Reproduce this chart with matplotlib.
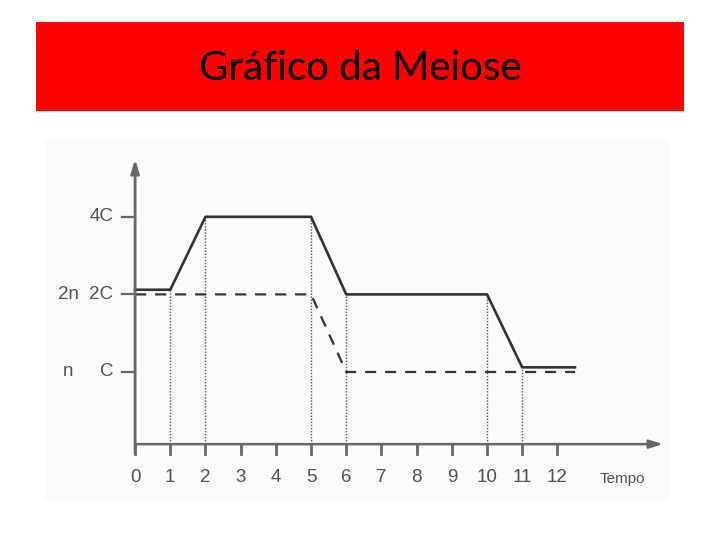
import matplotlib
matplotlib.use("Agg")
import matplotlib.pyplot as plt
from matplotlib.patches import Rectangle

# Dados do gráfico (tempo x nível de DNA / ploidia)
# níveis no eixo y: 1 = C / n, 2 = 2C / 2n, 3 = 4C
tempo_dna = [0, 1, 2, 5, 6, 10, 11, 12.5]
nivel_dna = [2.06, 2.06, 3, 3, 2, 2, 1.06, 1.06]

tempo_cromossomos = [0, 5, 6, 12.5]
nivel_cromossomos = [2, 2, 1, 1]

# linhas pontilhadas verticais
marcas_tempo = [1, 2, 5, 6, 10, 11]
marcas_nivel = [2.06, 3, 3, 2, 2, 1.06]

ticks_x = list(range(0, 13))
niveis_y = [1, 2, 3]
rotulos_c = ["C", "2C", "4C"]
rotulos_n = ["n", "2n", ""]

cor_linha = "#333333"
cor_eixo = "#666666"
cor_texto = "#505050"

fig = plt.figure(figsize=(7.2, 5.4), dpi=100)
fig.patch.set_facecolor("white")

# faixa vermelha do título
fig.patches.append(Rectangle((36 / 720, 1 - 111 / 540), 648 / 720, 89 / 540,
                             transform=fig.transFigure, facecolor="#ff0000",
                             edgecolor="none", zorder=0))
fig.text(0.5, 1 - 68 / 540, "Gráfico da Meiose", ha="center", va="center",
         fontsize=29, family="Lato", color="black")

ax = fig.add_axes([45 / 720, 40 / 540, 625 / 720, 360 / 540])
ax.set_facecolor("#fafafa")
ax.set_xlim(-2.56, 15.2)
ax.set_ylim(-0.65, 3.99)
for s in ax.spines.values():
    s.set_visible(False)
ax.set_xticks([])
ax.set_yticks([])

eixo_y0 = 0.07

# eixos com setas
ax.annotate("", xy=(0, 3.74), xytext=(0, -0.05),
            arrowprops=dict(arrowstyle="-|>,head_length=0.8,head_width=0.25",
                            color=cor_eixo, lw=2.0, shrinkA=0, shrinkB=0))
ax.annotate("", xy=(15.0, eixo_y0), xytext=(0, eixo_y0),
            arrowprops=dict(arrowstyle="-|>,head_length=0.8,head_width=0.25",
                            color=cor_eixo, lw=1.8, shrinkA=0, shrinkB=0))

# marcas dos eixos
for t in ticks_x:
    ax.plot([t, t], [eixo_y0, -0.06], color=cor_eixo, lw=2.0)
    ax.text(t, -0.36, str(t), ha="center", va="center", fontsize=13.5,
            family="Liberation Sans", color=cor_texto)
for nv, rc, rn in zip(niveis_y, rotulos_c, rotulos_n):
    ax.plot([-0.36, 0], [nv, nv], color=cor_eixo, lw=1.6)
    ax.text(-0.62, nv, rc, ha="right", va="center", fontsize=13.5,
            family="Liberation Sans", color=cor_texto)
    if rn:
        ax.text(-1.9, nv, rn, ha="center", va="center", fontsize=13.5,
                family="Liberation Sans", color=cor_texto)
ax.text(13.85, -0.38, "Tempo", ha="center", va="center", fontsize=11,
        family="Liberation Sans", color=cor_texto)

# linhas pontilhadas
for t, nv in zip(marcas_tempo, marcas_nivel):
    ax.plot([t, t], [eixo_y0, nv], color="#555555", lw=1.0, ls=(0, (1, 1.2)))

# curvas
ax.plot(tempo_cromossomos, nivel_cromossomos, color=cor_linha, lw=1.6,
        ls=(0, (5, 4)))
ax.plot(tempo_dna, nivel_dna, color=cor_linha, lw=1.9)

fig.savefig("out.png", dpi=100)
